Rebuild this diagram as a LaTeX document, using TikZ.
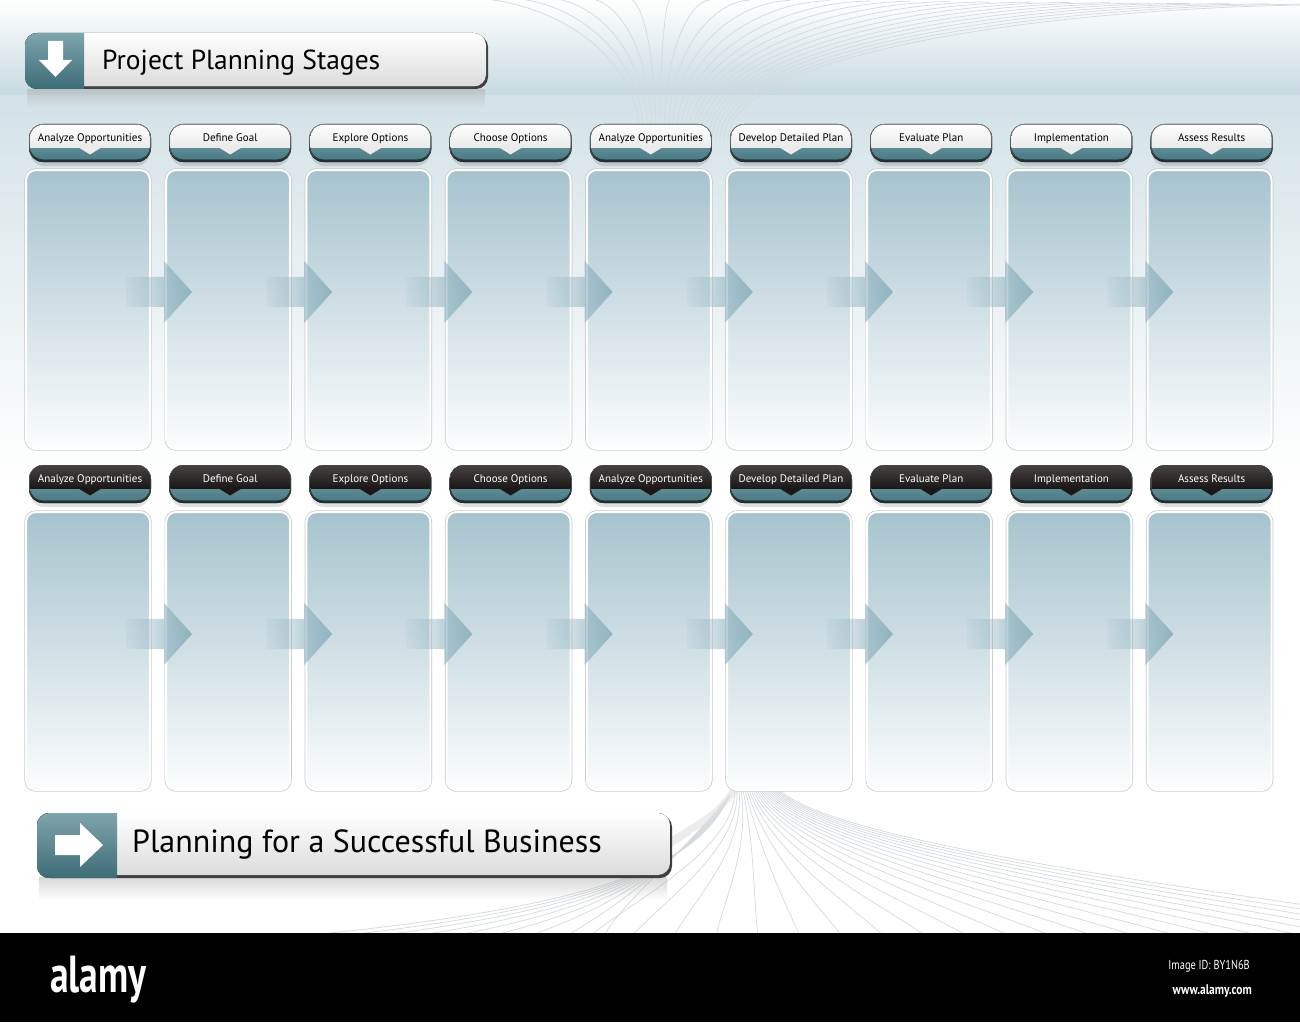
\documentclass[tikz,border=0pt]{standalone}
\usepackage{fontspec}
\setmainfont{PT Sans}
\usetikzlibrary{fadings}
\tikzfading[name=arrowfade, left color=transparent!92, middle color=transparent!35, right color=transparent!5]
\tikzfading[name=reflfade, top color=transparent!20, bottom color=transparent!100]
\definecolor{bgblue}{HTML}{C6D9E0}
\definecolor{bgblue2}{HTML}{D3E2E7}
\definecolor{panelTop}{HTML}{A6C3CD}
\definecolor{tealL}{HTML}{86ADB6}
\definecolor{tealD}{HTML}{4A7A84}
\definecolor{boxL}{HTML}{7FA4AD}
\definecolor{boxD}{HTML}{3D6C77}
\definecolor{swoosh}{HTML}{D3DADE}
\definecolor{arrowC}{HTML}{8DB1BE}
\definecolor{edgeC}{HTML}{1F2B2F}
\definecolor{darkTop}{HTML}{4A4545}
\definecolor{darkBot}{HTML}{1C1818}
\begin{document}
\begin{tikzpicture}[x=1pt,y=-1pt,
  panel/.style={rounded corners=10, top color=panelTop, bottom color=white!96!panelTop,
    draw=white, line width=2pt, preaction={draw=black!22, line width=3.4pt},
    minimum width=124pt, inner sep=0pt},
  toplab/.style={anchor=base, inner sep=0pt, font=\fontsize{11}{12}\selectfont, text=black},
  botlab/.style={anchor=base, inner sep=0pt, font=\fontsize{11}{12}\selectfont, text=white},
  flowarrow/.style={fill=arrowC, path fading=arrowfade},
  swl/.style={draw=swoosh, line width=.7pt},
  banner/.style={rounded corners=12, top color=white, bottom color=black!14},
  refl/.style={fill=black!35, path fading=reflfade, opacity=.55}
]
\useasboundingbox (0,0) rectangle (1300,1022);
% background
\fill[white] (0,0) rectangle (1300,1022);
\fill[top color=white, bottom color=bgblue] (0,0) rectangle (1300,96);
\fill[top color=bgblue2, bottom color=white] (0,96) rectangle (1300,480);
% swoosh lines
\begin{scope}
\clip (0,0) rectangle (1300,933);
\foreach \i in {0,...,22}{
  \pgfmathsetmacro\sx{640+\i*4}
  \pgfmathsetmacro\ex{470+\i*40}
  \draw[swl] (\sx,140) .. controls (\sx,50) and (\ex-0.45*\ex+0.45*\sx,\i*0.2) .. (\ex,-2+\i*0.3);
}
\foreach \i in {0,...,22}{
  \pgfmathsetmacro\sx{735+\i*2}
  \pgfmathsetmacro\ex{590+\i*42}
  \draw[swl] (\sx,790) .. controls (\sx+\i*3,850) and (\ex-0.3*\ex+0.3*\sx,900) .. (\ex,936);
}
\foreach \i in {0,...,8}{
  \draw[swl] (730,795) .. controls (700-\i*3,860) and (620,905) .. (300+\i*38,936);
}
\end{scope}
\fill[black!12, opacity=.6] (730,790) .. controls (715,810) .. (670,838) -- (670,848) .. controls (715,818) .. (738,792) -- cycle;
% title banner (top)
\fill[refl] (27,89) rectangle (485,108);
\fill[black!75, rounded corners=12] (27,35) rectangle (488,89);
\fill[banner] (25,33) rectangle (486,86.5);
\begin{scope}
  \clip[rounded corners=12] (25,33) rectangle (486,89);
  \fill[top color=boxL, bottom color=boxD] (25,33) rectangle (84,89);
\end{scope}
\fill[white] (48,41) -- (63,41) -- (63,60) -- (72,60) -- (55.5,77) -- (39,60) -- (48,60) -- cycle;
\node[anchor=base west, inner sep=0pt, font=\fontsize{27.5}{31}\selectfont] (title) at (102,70) {Project Planning Stages};
% panels
\foreach \i in {0,...,8}{
  \pgfmathsetmacro\cx{88+140.2*\i}
  \node[panel, minimum height=279pt] (p\i) at (\cx,309.5) {};
  \node[panel, minimum height=278pt] (q\i) at (\cx,651) {};
}
% flow arrows
\foreach \i in {0,...,7}{
  \pgfmathsetmacro\cx{88+140.2*\i}
  \foreach \Y in {292,634}{
    \path[flowarrow] (\cx+38,\Y-15) -- (\cx+76,\Y-15) -- (\cx+76,\Y-31) -- (\cx+104,\Y) -- (\cx+76,\Y+31) -- (\cx+76,\Y+15) -- (\cx+38,\Y+15) -- cycle;
  }
}
% stage pills
\foreach \lab [count=\j from 0] in {Analyze Opportunities, Define Goal, Explore Options, Choose Options, Analyze Opportunities, Develop Detailed Plan, Evaluate Plan, Implementation, Assess Results}{
  \pgfmathsetmacro\cx{90+140.2*\j}
  % top row
  \fill[black, opacity=.12, rounded corners=14] (\cx-60,127) rectangle (\cx+60,166);
  \fill[rounded corners=14, top color=black!45, bottom color=edgeC] (\cx-61,124) rectangle (\cx+61,162);
  \begin{scope}
    \clip[rounded corners=13] (\cx-60,124.6) rectangle (\cx+60,159.5);
    \fill[top color=tealL, bottom color=tealD] (\cx-62,123) rectangle (\cx+62,160);
    \fill[top color=white, bottom color=black!8] (\cx-62,123) rectangle (\cx+62,147);
    \fill[black!8] (\cx-13,146.5) -- (\cx+13,146.5) -- (\cx,154.5) -- cycle;
  \end{scope}
  \node[toplab] (t\j) at (\cx,141) {\lab};
  % bottom row
  \fill[black, opacity=.12, rounded corners=14] (\cx-60,468) rectangle (\cx+60,507);
  \fill[rounded corners=14, top color=black!60, bottom color=edgeC] (\cx-61,465) rectangle (\cx+61,503);
  \begin{scope}
    \clip[rounded corners=13] (\cx-60,465.6) rectangle (\cx+60,500.5);
    \fill[top color=tealL, bottom color=tealD] (\cx-62,464) rectangle (\cx+62,501);
    \fill[top color=darkTop, bottom color=darkBot] (\cx-62,464) rectangle (\cx+62,488);
    \fill[darkBot] (\cx-13,487.5) -- (\cx+13,487.5) -- (\cx,495.5) -- cycle;
  \end{scope}
  \node[botlab] (b\j) at (\cx,482) {\lab};
}
% bottom banner
\fill[refl] (39,877) rectangle (668,900);
\fill[black!75, rounded corners=12] (39,815) rectangle (672,878);
\fill[banner] (37,813) rectangle (670,875);
\begin{scope}
  \clip[rounded corners=12] (37,813) rectangle (670,878);
  \fill[top color=boxL, bottom color=boxD] (37,813) rectangle (117,878);
\end{scope}
\fill[white] (55,835) -- (80,835) -- (80,823) -- (103,845) -- (80,867) -- (80,855) -- (55,855) -- cycle;
\node[anchor=base west, inner sep=0pt, font=\fontsize{32}{36}\selectfont] (subtitle) at (132,852) {Planning for a Successful Business};
% footer
\fill[black] (0,933) rectangle (1300,1022);
\node[anchor=base west, inner sep=0pt, text=white, font=\bfseries\fontsize{52}{56}\selectfont] (logo) at (50,992) {\scalebox{0.72}[1]{alamy}};
\node[anchor=base east, inner sep=0pt, text=white, font=\fontsize{13}{15}\selectfont] (imgid) at (1250,969) {\scalebox{0.8}[1]{Image ID: BY1N6B}};
\node[anchor=base east, inner sep=0pt, text=white, font=\bfseries\fontsize{14}{16}\selectfont] (url) at (1252,994) {\scalebox{0.82}[1]{www.alamy.com}};
\end{tikzpicture}
\end{document}
